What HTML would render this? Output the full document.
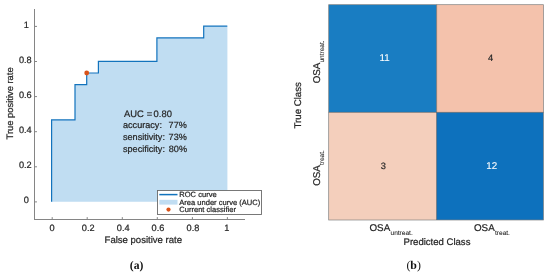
<!DOCTYPE html>
<html><head><meta charset="utf-8"><title>ROC curve and confusion matrix</title>
<style>
html,body{margin:0;padding:0;background:#fff;}
body{width:550px;height:275px;overflow:hidden;}
svg{display:block;}
text{text-rendering:geometricPrecision;font-family:"Liberation Sans",Arial,Helvetica,sans-serif;fill:#262626;stroke:#262626;stroke-width:0.22px;}
.tk{font-size:9.2px;}
.lb{font-size:9.55px;}
.cl{font-size:9.8px;}
.an{font-size:9.1px;}
.lg{font-size:7.55px;stroke-width:0.1px;}
.cap{font-family:"Liberation Serif","Times New Roman",serif;font-weight:bold;font-size:11.6px;fill:#111;stroke:none;}
.sub{font-size:6.55px;stroke-width:0.08px;}
</style></head>
<body>
<svg width="550" height="275" viewBox="0 0 550 275">
<rect width="550" height="275" fill="#fff"/>

<!-- ROC area -->
<path d="M51.6 201.8 L51.6 119.9 L75.0 119.9 L75.0 84.7 L86.7 84.7 L86.7 73.0 L98.4 73.0 L98.4 61.3 L156.9 61.3 L156.9 37.9 L203.7 37.9 L203.7 26.2 L227.4 26.2 L227.4 201.8 Z" fill="#c0ddf2"/>
<path d="M51.6 201.8 L51.6 119.9 L75.0 119.9 L75.0 84.7 L86.7 84.7 L86.7 73.0 L98.4 73.0 L98.4 61.3 L156.9 61.3 L156.9 37.9 L203.7 37.9 L203.7 26.2 L227.3 26.2" fill="none" stroke="#1273bd" stroke-width="1.2" stroke-linejoin="miter"/>
<circle cx="86.7" cy="73.0" r="2.4" fill="#d95319"/>

<!-- axes -->
<g stroke="#858585" stroke-width="1" fill="none">
<path d="M34.6 8.8 V219.5 H245" shape-rendering="crispEdges"/>
<path d="M34.6 201.9 h2.4 M34.6 166.8 h2.4 M34.6 131.7 h2.4 M34.6 96.6 h2.4 M34.6 61.5 h2.4 M34.6 26.4 h2.4"/>
<path d="M52.2 219.5 v-2.4 M87.2 219.5 v-2.4 M122.3 219.5 v-2.4 M157.3 219.5 v-2.4 M192.4 219.5 v-2.4 M227.4 219.5 v-2.4"/>
</g>

<!-- y tick labels -->
<g class="tk" text-anchor="middle">
<text x="26.2" y="27.5">1</text>
<text x="25.3" y="62.6">0.8</text>
<text x="25.3" y="97.7">0.6</text>
<text x="25.3" y="132.8">0.4</text>
<text x="25.3" y="167.9">0.2</text>
<text x="26.3" y="203">0</text>
</g>
<!-- x tick labels -->
<g class="tk" text-anchor="middle">
<text x="52" y="230.7">0</text>
<text x="88.2" y="230.7">0.2</text>
<text x="123.2" y="230.7">0.4</text>
<text x="158" y="230.7">0.6</text>
<text x="193" y="230.7">0.8</text>
<text x="226.8" y="230.7">1</text>
</g>
<text class="lb" x="143.3" y="242.6" text-anchor="middle">False positive rate</text>
<text class="lb" transform="translate(12.8 103.4) rotate(-90)" text-anchor="middle" style="font-size:9.4px">True positive rate</text>

<!-- annotation -->
<g class="an">
<g style="font-size:9.4px"><text x="124.1" y="116.5">AUC</text><text x="146.8" y="116.5">=</text><text x="153.6" y="116.5">0.80</text></g>
<text x="123" y="128.3">accuracy:</text><text x="168.6" y="128.3">77%</text>
<text x="123" y="140.1">sensitivity:</text><text x="168.6" y="140.1">73%</text>
<text x="123" y="151.5">specificity:</text><text x="168.8" y="151.5">80%</text>
</g>

<!-- legend -->
<rect x="157.5" y="190.5" width="104" height="24" fill="#fff" stroke="#6a6a6a" stroke-width="0.9"/>
<line x1="159.3" y1="194.6" x2="177.5" y2="194.6" stroke="#1273bd" stroke-width="1.5"/>
<rect x="159.3" y="199.8" width="18.2" height="4.8" fill="#c0ddf2"/>
<circle cx="168.5" cy="209.6" r="2.1" fill="#d95319"/>
<g class="lg">
<text x="179.3" y="197">ROC curve</text>
<text x="179.3" y="204.5">Area under curve (AUC)</text>
<text x="179.3" y="211.6">Current classifier</text>
</g>

<text class="cap" x="136.6" y="268.7" text-anchor="middle">(a)</text>

<!-- confusion matrix -->
<rect x="328.7" y="4.7" width="107.9" height="107.7" fill="#197dc2"/>
<rect x="436.6" y="4.7" width="106.9" height="107.7" fill="#f4c2ac"/>
<rect x="328.7" y="112.4" width="107.9" height="107.6" fill="#f4cfbc"/>
<rect x="436.6" y="112.4" width="106.9" height="107.6" fill="#0d71bd"/>
<rect x="328.7" y="4.7" width="214.8" height="215.3" fill="none" stroke="#808080" stroke-width="0.7"/>
<path d="M436.6 4.7 V220 M328.7 112.4 H543.5" fill="none" stroke="#555" stroke-width="0.6"/>
<g class="an" text-anchor="middle" style="font-size:9.25px">
<text x="384.5" y="61.1" style="fill:#fff;stroke:#fff;stroke-width:0.1px;font-size:9.8px">11</text>
<text x="490.5" y="61.2">4</text>
<text x="383.4" y="168.5">3</text>
<text x="491.8" y="168.8" style="fill:#fff;stroke:#fff;stroke-width:0.1px;font-size:9.8px">12</text>
</g>

<text class="cl" transform="translate(301 105.3) rotate(-90)" text-anchor="middle" style="font-size:9.7px">True Class</text>
<text class="cl" transform="translate(320 83.3) rotate(-90)">OSA<tspan class="sub" dy="4">untreat.</tspan></text>
<text class="cl" transform="translate(320 185.8) rotate(-90)">OSA<tspan class="sub" dy="4">treat.</tspan></text>

<text class="cl" x="369.5" y="230.9">OSA<tspan class="sub" dx="0.3" dy="4">untreat.</tspan></text>
<text class="cl" x="474" y="230.9">OSA<tspan class="sub" dx="0.3" dy="4">treat.</tspan></text>
<text class="lb" x="437" y="244.5" text-anchor="middle">Predicted Class</text>

<text class="cap" x="413.6" y="268.6" text-anchor="middle" style="font-size:11.8px"><tspan style="font-weight:normal">(</tspan>b<tspan style="font-weight:normal">)</tspan></text>
</svg>
</body></html>
